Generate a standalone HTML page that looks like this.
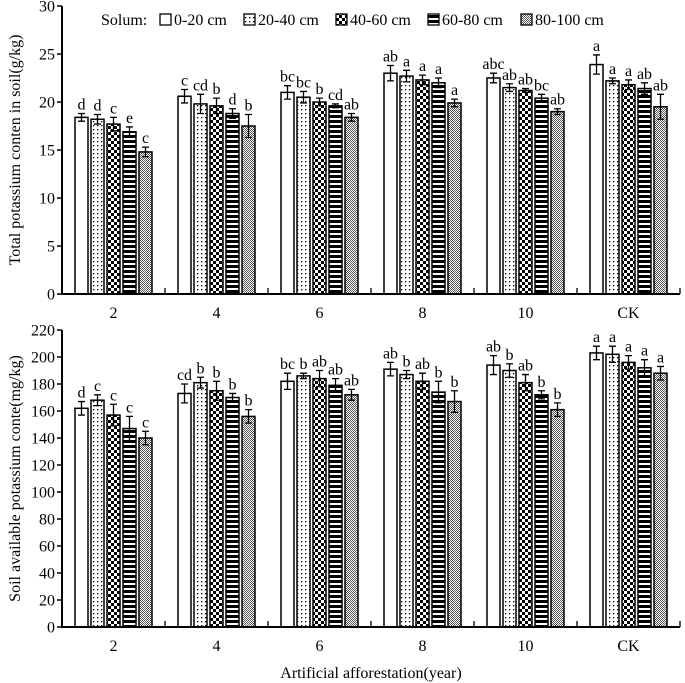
<!DOCTYPE html>
<html><head><meta charset="utf-8"><style>
body{margin:0;background:#fff}
svg{display:block;font-family:"Liberation Serif",serif}
</style></head><body>
<svg id="c" width="685" height="683" xmlns="http://www.w3.org/2000/svg">
<defs>
<pattern id="p1" width="4" height="4" patternUnits="userSpaceOnUse"><rect width="4" height="4" fill="#fff"/><rect x="1" y="1" width="1.3" height="1.3" fill="#000"/></pattern>
<pattern id="p2" width="6" height="6" patternUnits="userSpaceOnUse"><rect width="6" height="6" fill="#fff"/><rect width="3" height="3" fill="#000"/><rect x="3" y="3" width="3" height="3" fill="#000"/></pattern>
<pattern id="p3" width="6" height="5" patternUnits="userSpaceOnUse"><rect width="6" height="5" fill="#fff"/><rect width="6" height="3" fill="#000"/></pattern>
<pattern id="p4" width="2" height="2" patternUnits="userSpaceOnUse"><rect width="2" height="2" fill="#fff"/><rect width="1" height="1" fill="#555"/><rect x="1" y="1" width="1" height="1" fill="#555"/></pattern>
</defs>
</svg>
<script>
const groups=["2","4","6","8","10","CK"];
const series=["0-20 cm","20-40 cm","40-60 cm","60-80 cm","80-100 cm"];
const topVals=[[18.4,18.2,17.7,16.9,14.8],[20.6,19.8,19.6,18.8,17.5],[21.0,20.5,20.0,19.6,18.4],[23.0,22.7,22.3,22.0,19.9],[22.5,21.5,21.2,20.4,19.0],[23.9,22.2,21.8,21.4,19.5]];
const topErr=[[0.4,0.5,0.7,0.5,0.5],[0.7,1.0,0.8,0.5,1.2],[0.7,0.6,0.4,0.2,0.4],[0.8,0.6,0.5,0.5,0.4],[0.5,0.4,0.2,0.4,0.3],[1.0,0.3,0.5,0.6,1.3]];
const topLet=[["d","d","c","e","c"],["c","cd","b","d","b"],["bc","bc","b","cd","ab"],["ab","a","a","a","a"],["abc","ab","ab","bc","ab"],["a","a","a","ab","ab"]];
const botVals=[[162,168,157,147,140],[173,181,175,170,156],[182,186,184,179,172],[191,187,182,174,167],[194,190,181,172,161],[203,202,196,192,188]];
const botErr=[[5,4,8,9,5],[7,4,7,3,5],[6,2,6,5,4],[5,3,6,8,8],[7,5,6,3,5],[5,6,5,6,5]];
const botLet=[["d","c","c","c","c"],["cd","b","b","b","b"],["bc","b","ab","ab","ab"],["ab","b","ab","b","b"],["ab","b","ab","b","b"],["a","a","a","a","a"]];
const topTicks=[0,5,10,15,20,25,30];
const botTicks=[0,20,40,60,80,100,120,140,160,180,200,220];
const fills=["#fff","url(#p1)","url(#p2)","url(#p3)","url(#p4)"];
const svg=document.getElementById('c');
const NS="http://www.w3.org/2000/svg";
function mk(t,a,txt){const e=document.createElementNS(NS,t);for(const k in a)e.setAttribute(k,a[k]);if(txt!==undefined)e.textContent=txt;svg.appendChild(e);return e;}
const X0=62,GW=103,BW=13,BS=16;
function gx(i){return X0+GW*i+GW/2;}
function bx(i,j){return gx(i)-(BS*4+BW)/2+BS*j;}
function panel(vals,errs,lets,ticks,yMax,y0,y1,name,title){
  const y=v=>y0-(v/yMax)*(y0-y1);
  for(let i=0;i<vals.length;i++){
    for(let j=0;j<5;j++){
      const v=vals[i][j],e=errs[i][j],x=bx(i,j);
      const r=mk('rect',{x:x,y:y(v),width:BW,height:y0-y(v),fill:fills[j],stroke:"#000","stroke-width":1.5});
      
      
      const cx=x+BW/2;
      const eb=mk('path',{d:`M${cx} ${y(v+e)}V${y(v-e)}M${cx-3.5} ${y(v+e)}H${cx+3.5}M${cx-3.5} ${y(v-e)}H${cx+3.5}`,stroke:"#000","stroke-width":1.3,fill:"none"});
      
      
      if(lets[i][j]){const t=mk('text',{x:cx,y:y(v+e)-4,"font-size":16,"text-anchor":"middle"},lets[i][j]);
      
      }
    }
    const tk=mk('line',{x1:X0+GW*(i+1),x2:X0+GW*(i+1),y1:y0,y2:y0-6,stroke:"#000","stroke-width":1.3});
    
    
    const lb=mk('text',{x:gx(i),y:y0+24,"font-size":16,"text-anchor":"middle"},groups[i]);
    
    
  }
  const ax=mk('path',{d:`M${X0} ${y1}V${y0}H${X0+GW*6}`,stroke:"#000","stroke-width":2,fill:"none"});
  
  
  for(const t of ticks){
    mk('line',{x1:X0-5,x2:X0,y1:y(t),y2:y(t),stroke:"#000","stroke-width":1.5});
    const tl=mk('text',{x:X0-7,y:y(t)+5.5,"font-size":16,"text-anchor":"end"},t);
    
    
  }
  const cy=(y0+y1)/2;
  const yt=mk('text',{x:20,y:cy,"font-size":16,"text-anchor":"middle",transform:`rotate(-90 20 ${cy})`},title);
  
  
}
panel(topVals,topErr,topLet,topTicks,30,294,6,'top','Total potassium conten in soil(g/kg)');
panel(botVals,botErr,botLet,botTicks,220,627,330,'bottom','Soil available potassium conte(mg/kg)');
const xt=mk('text',{x:371,y:678,"font-size":16,"text-anchor":"middle"},'Artificial afforestation(year)');


const lt=mk('text',{x:101,y:25,"font-size":16},'Solum:');


const lxs=[160,244,336,428,521];
for(let j=0;j<5;j++){
  const s=mk('rect',{x:lxs[j],y:14,width:11,height:11,fill:fills[j],stroke:"#000","stroke-width":1.3});
  
  
  const t=mk('text',{x:lxs[j]+14,y:25,"font-size":16},series[j]);
  
  
}
</script>
</body></html>
